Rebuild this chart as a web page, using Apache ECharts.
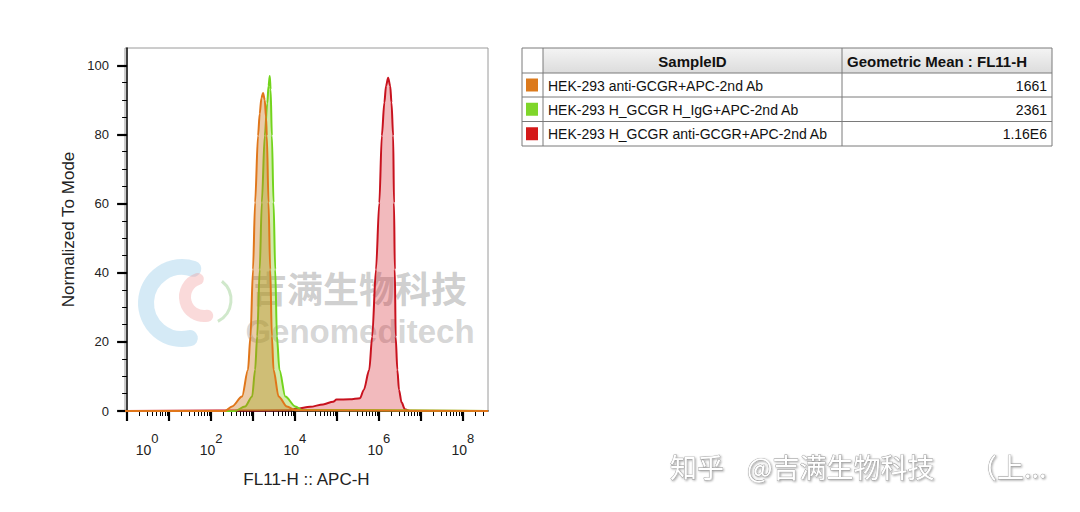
<!DOCTYPE html>
<html>
<head>
<meta charset="utf-8">
<script src="https://cdn.jsdelivr.net/npm/echarts@6/dist/echarts.min.js"></script>
<style>
html,body{margin:0;padding:0;background:#fff;}
#chart{width:1080px;height:512px;}
</style>
</head>
<body>
<div id="chart"></div>
<script>
// x values are log10(FL11-H intensity); y values are "Normalized To Mode" (%)
const sampleIDs = ['HEK-293 anti-GCGR+APC-2nd Ab', 'HEK-293 H_GCGR H_IgG+APC-2nd Ab', 'HEK-293 H_GCGR anti-GCGR+APC-2nd Ab'];
const geoMeans = ['1661', '2361', '1.16E6'];

const orangeLogX = [-0.05, 2.33, 2.50, 2.74, 2.88, 2.94, 3.00, 3.05, 3.12, 3.16, 3.20, 3.24, 3.28, 3.31, 3.33, 3.37, 3.41, 3.45, 3.49, 3.61, 3.81, 4.00, 8.60];
const orangeY    = [0,    0,    1.3,  4.2,  11.9, 21.6, 40.9, 60.3, 79.6, 86,   90.5, 92,   90,   85,   79.6, 60.3, 40.9, 21.6, 11.9, 4.2,  1.3,  0.2,  0];

const greenLogX = [-0.05, 2.57, 2.81, 2.98, 3.05, 3.10, 3.16, 3.21, 3.28, 3.34, 3.37, 3.40, 3.42, 3.45, 3.49, 3.53, 3.57, 3.63, 3.77, 4.01, 4.17, 8.60];
const greenY    = [0,    0,    1.3,  4.2,  11.9, 21.6, 40.9, 60.3, 79.6, 89,   94,   96.9, 93,   79.6, 60.3, 40.9, 21.6, 11.9, 4.2,  1.3,  0.3,  0];

const redLogX = [-0.05, 3.88, 4.04, 4.36, 4.67, 4.91, 4.99, 5.31, 5.55, 5.64, 5.77, 5.84, 5.93, 6.01, 6.07, 6.13, 6.17, 6.22, 6.27, 6.30, 6.34, 6.36, 6.38, 6.40, 6.44, 6.48, 6.54, 6.62, 6.74, 8.60];
const redY    = [0,    0.2,  0.7,  1.2,  1.9,  2.7,  3.3,  3.4,  3.7,  6.1,  11.9, 21.5, 40.9, 60.2, 79.6, 89.2, 94,   96.4, 94,   89.2, 79.6, 60.2, 40.9, 21.5, 11.9, 6.1,  2.5,  0.5,  0,    0];

const xMajorTicks = [0, 1, 2, 3, 4, 5, 6, 7, 8];
const xLabelTicks = [0, 2, 4, 6, 8];
const yMajorTicks = [0, 20, 40, 60, 80, 100];
const yMinorTicks = [5, 10, 15, 25, 30, 35, 45, 50, 55, 65, 70, 75, 85, 90, 95];

const xMinorTicks = [];
for (let d = 0; d < 9; d++) {
  for (let k = 2; k <= 9; k++) {
    const v = d + Math.log10(k);
    if (v <= 8.6) xMinorTicks.push(+v.toFixed(4));
  }
}

const pairs = (xs, ys) => xs.map((x, i) => [x, ys[i]]);

const FONT = '"Liberation Sans", Arial, sans-serif';
const CJK = '"Noto Sans CJK SC", sans-serif';

const chart = echarts.init(document.getElementById('chart'), null, {renderer: 'svg'});

// table legend geometry
const tL = 522, tR = 1052, c1 = 543, c2 = 842;
const rowsY = [48, 73, 97, 121.5, 146];
const swatchColors = ['#dc7a1c', '#7fd62a', '#d41818'];

const tableEls = [];
tableEls.push({type: 'rect', shape: {x: c1, y: rowsY[0], width: tR - c1, height: rowsY[1] - rowsY[0]},
  style: {fill: new echarts.graphic.LinearGradient(0, 0, 0, 1, [{offset: 0, color: '#f4f4f4'}, {offset: 1, color: '#dcdcdc'}])}});
tableEls.push({type: 'rect', shape: {x: tL, y: rowsY[0], width: tR - tL, height: rowsY[4] - rowsY[0]},
  style: {fill: 'none', stroke: '#7a7a7a', lineWidth: 1}});
for (let i = 1; i < 4; i++) {
  tableEls.push({type: 'line', shape: {x1: tL, y1: rowsY[i], x2: tR, y2: rowsY[i]}, style: {stroke: '#7a7a7a', lineWidth: 1}});
}
[c1, c2].forEach(cx => tableEls.push({type: 'line', shape: {x1: cx, y1: rowsY[0], x2: cx, y2: rowsY[4]}, style: {stroke: '#7a7a7a', lineWidth: 1}}));
tableEls.push({type: 'text', x: (c1 + c2) / 2, y: (rowsY[0] + rowsY[1]) / 2 + 1,
  style: {text: 'SampleID', font: 'bold 15px ' + FONT, fill: '#111', align: 'center', verticalAlign: 'middle'}});
tableEls.push({type: 'text', x: 937, y: (rowsY[0] + rowsY[1]) / 2 + 1,
  style: {text: 'Geometric Mean : FL11-H', font: 'bold 15px ' + FONT, fill: '#111', align: 'center', verticalAlign: 'middle'}});
for (let i = 0; i < 3; i++) {
  const cy = (rowsY[i + 1] + rowsY[i + 2]) / 2;
  tableEls.push({type: 'rect', shape: {x: 526, y: cy - 6.5, width: 12, height: 13}, style: {fill: swatchColors[i]}});
  tableEls.push({type: 'text', x: 548, y: cy + 0.5,
    style: {text: sampleIDs[i], font: '14px ' + FONT, fill: '#111', align: 'left', verticalAlign: 'middle'}});
  tableEls.push({type: 'text', x: 1047, y: cy + 0.5,
    style: {text: geoMeans[i], font: '14px ' + FONT, fill: '#111', align: 'right', verticalAlign: 'middle'}});
}

const zhStyle = (t) => ({text: t, font: '27px ' + CJK, fill: '#ffffff', stroke: 'rgba(140,140,140,0.9)', lineWidth: 0.8,
  align: 'left', verticalAlign: 'middle',
  textShadowColor: 'rgba(0,0,0,0.35)', textShadowBlur: 2, textShadowOffsetX: 1, textShadowOffsetY: 1});

const watermarkEls = [
  {type: 'arc', shape: {cx: 182, cy: 303, r: 36, startAngle: -1.25, endAngle: 1.35, clockwise: false},
   style: {fill: 'none', stroke: 'rgba(135,195,230,0.35)', lineWidth: 16, lineCap: 'round'}, z: 0},
  {type: 'arc', shape: {cx: 204, cy: 297, r: 19, startAngle: -1.9, endAngle: 1.4, clockwise: false},
   style: {fill: 'none', stroke: 'rgba(240,150,150,0.35)', lineWidth: 12, lineCap: 'round'}, z: 0},
  {type: 'arc', shape: {cx: 207, cy: 300, r: 24, startAngle: -0.9, endAngle: 1.1, clockwise: true},
   style: {fill: 'none', stroke: 'rgba(150,205,140,0.45)', lineWidth: 3}, z: 0},
  {type: 'text', x: 359, y: 287, z: 0,
   style: {text: '吉满生物科技', font: 'bold 36px ' + CJK, fill: 'rgba(140,140,140,0.42)', align: 'center', verticalAlign: 'middle'}},
  {type: 'text', x: 360, y: 331, z: 0,
   style: {text: 'Genomeditech', font: 'bold 33px ' + FONT, fill: 'rgba(150,150,150,0.4)', align: 'center', verticalAlign: 'middle'}},
  {type: 'text', x: 670, y: 466, z: 10, style: zhStyle('知乎')},
  {type: 'text', x: 747, y: 466, z: 10, style: zhStyle('@吉满生物科技')},
  {type: 'text', x: 970, y: 466, z: 10, style: zhStyle('（上...')}
];

const xRich = {
  b: {fontSize: 14, fontFamily: FONT, color: '#222'},
  s: {fontSize: 13, fontFamily: FONT, color: '#222', padding: [0, 0, 22, 0]},
  p: {width: 40}
};

const option = {
  backgroundColor: '#fff',
  animation: false,
  grid: {left: 125, top: 48, right: 592, bottom: 101, show: true, borderColor: '#9a9a9a', borderWidth: 1, backgroundColor: 'transparent'},
  xAxis: [{
    type: 'value', min: -0.05, max: 8.6, position: 'bottom',
    axisLine: {show: true, lineStyle: {color: '#000', width: 1.5}},
    axisTick: {show: true, customValues: xMajorTicks, length: 10, lineStyle: {color: '#000', width: 2.2}},
    axisLabel: {show: true, customValues: xLabelTicks, margin: 21,
      formatter: v => (Math.round(v) === 0 ? '{p| }' : '') + '{b|10}{s|' + Math.round(v) + '}',
      rich: xRich},
    splitLine: {show: false},
    name: 'FL11-H :: APC-H', nameLocation: 'middle', nameGap: 60,
    nameTextStyle: {fontSize: 17, fontFamily: FONT, color: '#222'}
  }, {
    type: 'value', min: -0.05, max: 8.6, position: 'bottom',
    axisLine: {show: false},
    axisTick: {show: true, customValues: xMinorTicks, length: 5, lineStyle: {color: '#000', width: 1}},
    axisLabel: {show: false},
    splitLine: {show: false}
  }],
  yAxis: [{
    type: 'value', min: 0, max: 105, position: 'left',
    axisLine: {show: true, lineStyle: {color: '#000', width: 1.5}},
    axisTick: {show: true, customValues: yMajorTicks, length: 10, lineStyle: {color: '#000', width: 2.2}},
    axisLabel: {show: true, customValues: yMajorTicks, margin: 16, fontSize: 13, fontFamily: FONT, color: '#222'},
    splitLine: {show: false},
    name: 'Normalized To Mode', nameLocation: 'middle', nameGap: 48,
    nameTextStyle: {fontSize: 17, fontFamily: FONT, color: '#222'}
  }, {
    type: 'value', min: 0, max: 105, position: 'left',
    axisLine: {show: false},
    axisTick: {show: true, customValues: yMinorTicks, length: 5, lineStyle: {color: '#000', width: 1}},
    axisLabel: {show: false},
    splitLine: {show: false}
  }],
  series: [{
    name: sampleIDs[2], type: 'line', data: pairs(redLogX, redY), smooth: 0.3, smoothMonotone: 'x',
    showSymbol: false, z: 3,
    lineStyle: {color: '#c8121e', width: 2},
    areaStyle: {color: 'rgba(215,35,45,0.45)'}
  }, {
    name: sampleIDs[1], type: 'line', data: pairs(greenLogX, greenY), smooth: 0.3, smoothMonotone: 'x',
    showSymbol: false, z: 4,
    lineStyle: {color: '#72d41c', width: 2},
    areaStyle: {color: 'rgba(140,200,40,0.55)'}
  }, {
    name: sampleIDs[0], type: 'line', data: pairs(orangeLogX, orangeY), smooth: 0.3, smoothMonotone: 'x',
    showSymbol: false, z: 5,
    lineStyle: {color: '#e0761a', width: 2},
    areaStyle: {color: 'rgba(200,120,30,0.55)'}
  }],
  graphic: {elements: watermarkEls.concat(tableEls)}
};

chart.setOption(option);
</script>
</body>
</html>
